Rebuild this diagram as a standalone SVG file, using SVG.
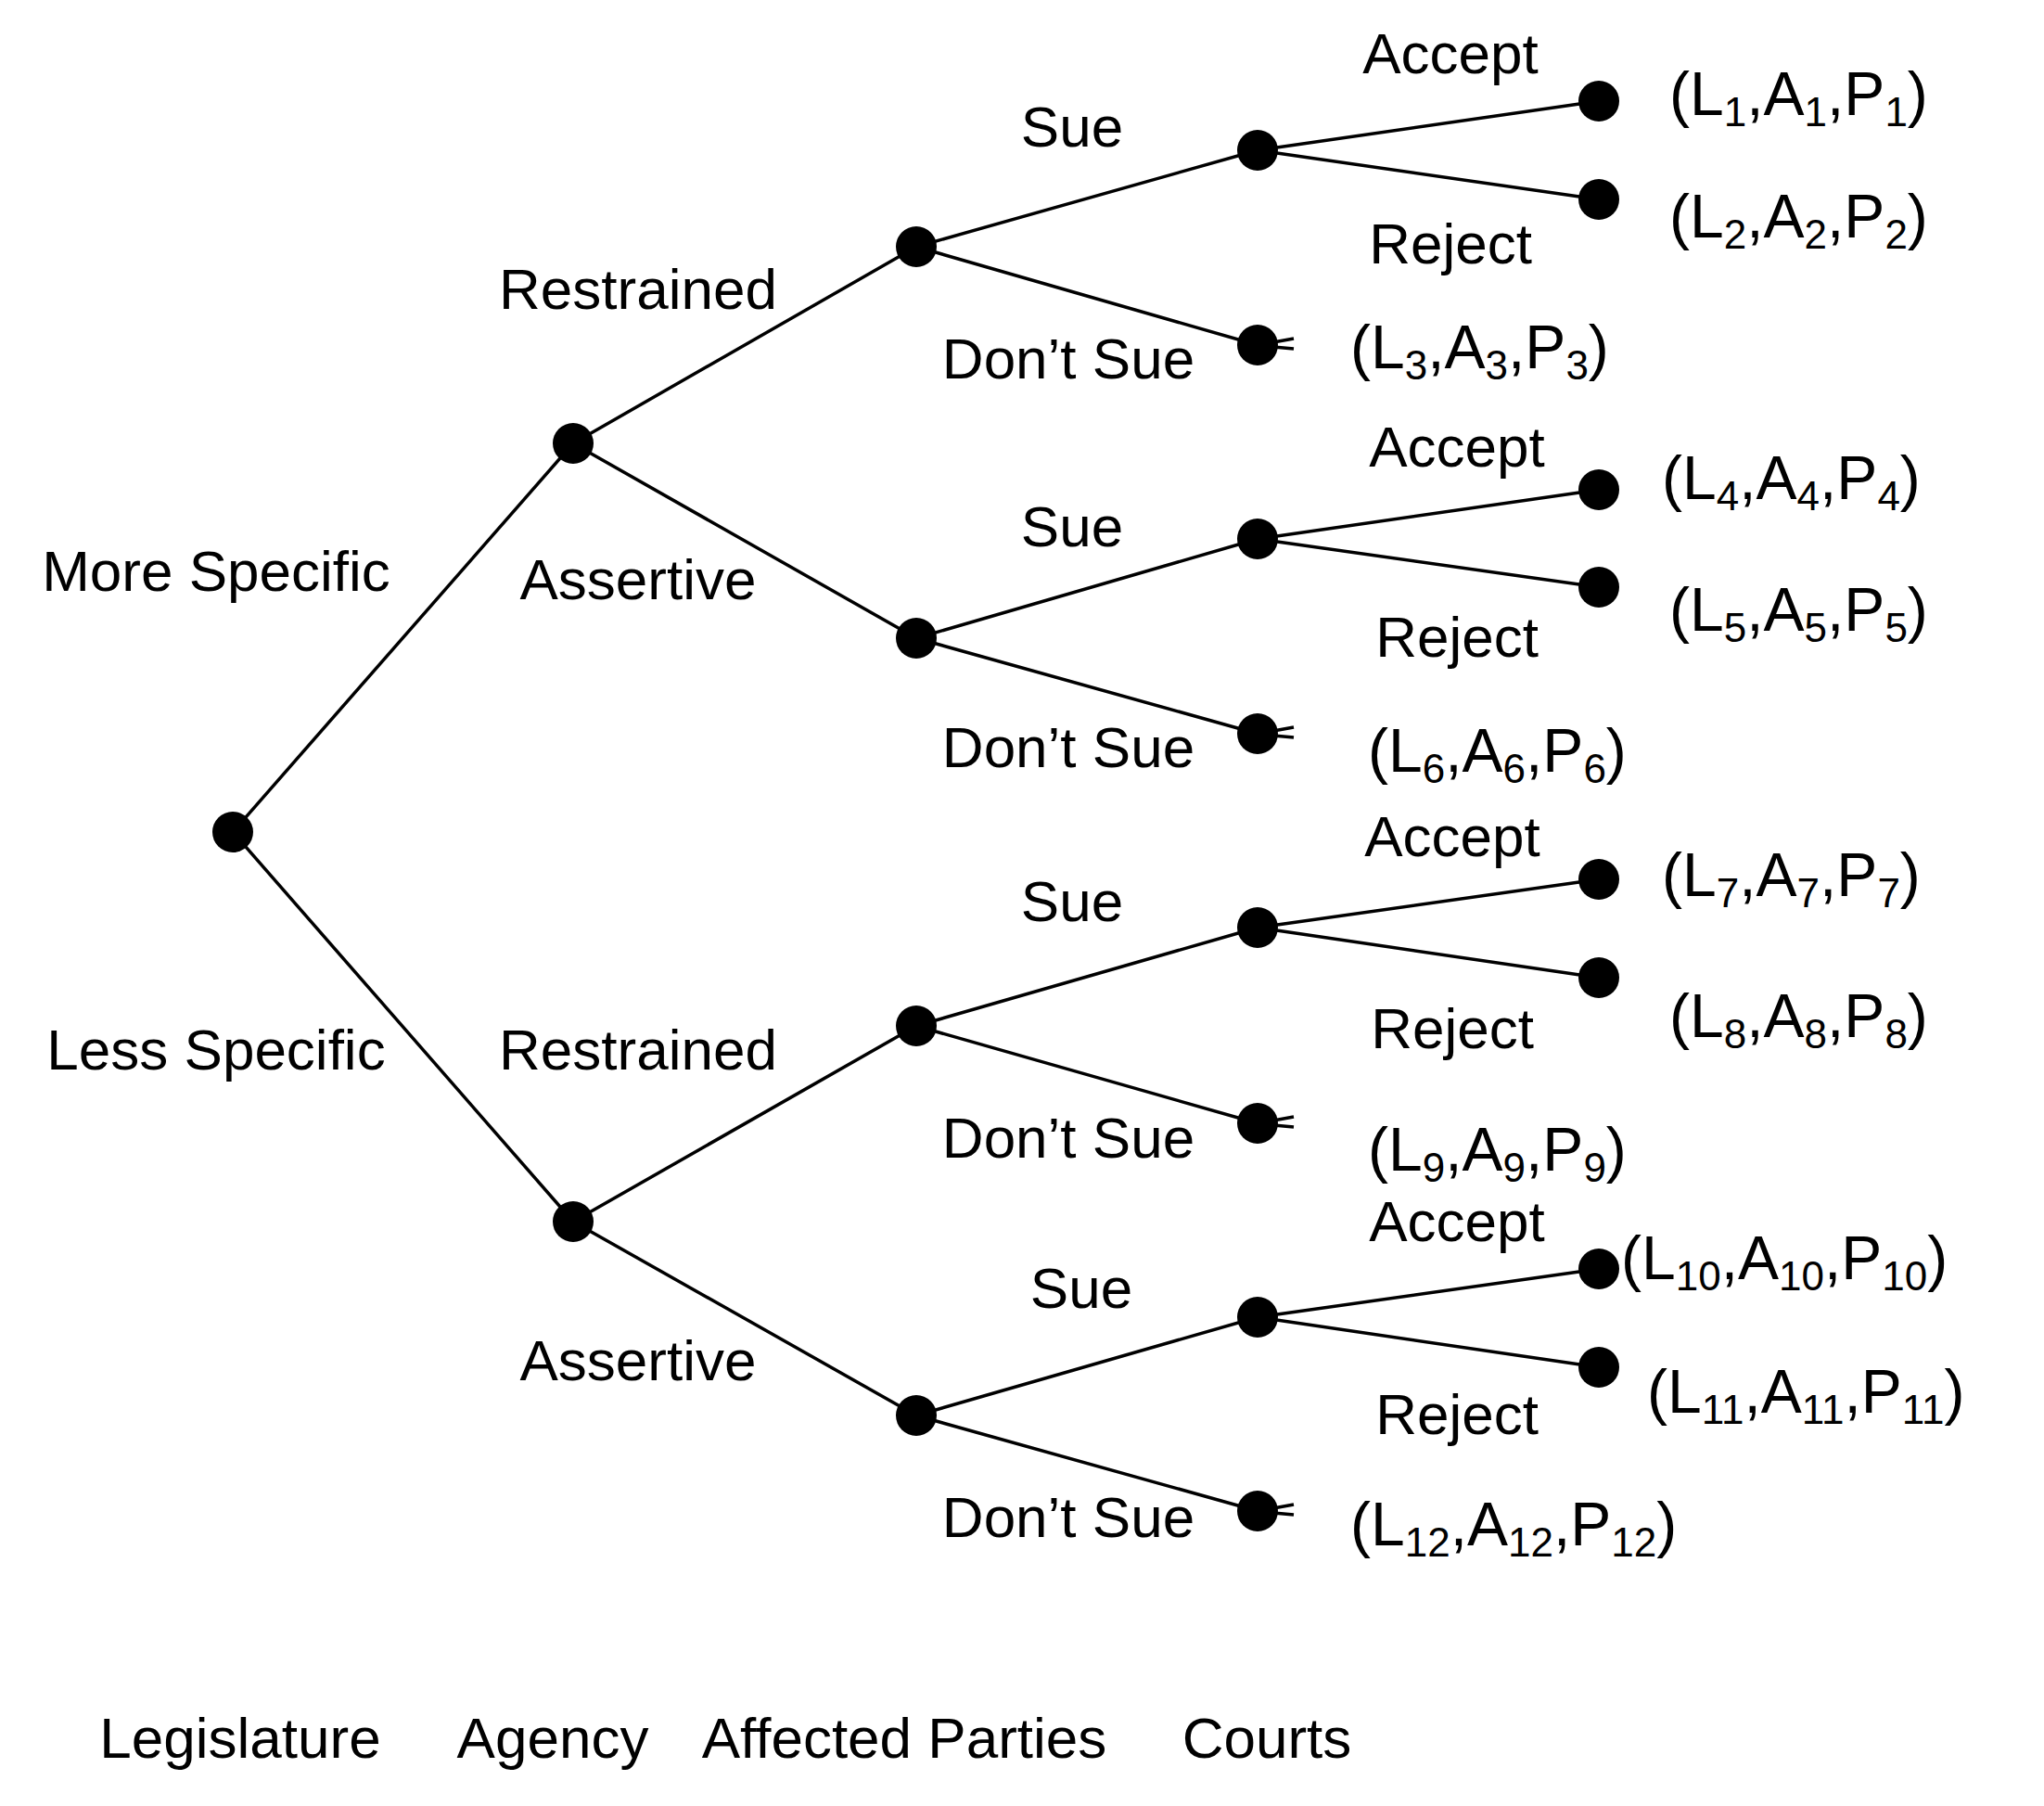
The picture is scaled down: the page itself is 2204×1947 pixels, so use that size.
<svg xmlns="http://www.w3.org/2000/svg" width="2204" height="1947" viewBox="0 0 2204 1947">
<style>
.e{stroke:#000;stroke-width:3.5;fill:none}
.n{fill:#000}
text{font-family:"Liberation Sans",Arial,sans-serif;font-size:62px;fill:#000}
.m{text-anchor:middle}
.p{font-size:66px}
.s{font-size:44px}
</style>
<rect width="2204" height="1947" fill="#fff"/>
<g id="connectors">
<path class="e" d="M251 897L618 478M251 897L618 1317"/>
<path class="e" d="M618 478L988 266M618 478L988 688M618 1317L988 1106M618 1317L988 1526"/>
<path class="e" d="M988 266L1356 162M988 266L1356 372M988 688L1356 581M988 688L1356 791M988 1106L1356 1000M988 1106L1356 1211M988 1526L1356 1420M988 1526L1356 1629"/>
<path class="e" d="M1356 162L1724 109M1356 162L1724 215M1356 581L1724 528M1356 581L1724 633M1356 1000L1724 948M1356 1000L1724 1054M1356 1420L1724 1368M1356 1420L1724 1474"/>
<path class="e" d="M1373 369L1395 365M1373 374L1395 376M1373 788L1395 784M1373 793L1395 795M1373 1208L1395 1204M1373 1213L1395 1215M1373 1626L1395 1622M1373 1631L1395 1633"/>
</g>
<g id="root"><circle class="n" cx="251" cy="897" r="22"/><text class="m" x="233" y="637">More Specific</text><text class="m" x="233" y="1153">Less Specific</text></g>
<g id="agency1"><circle class="n" cx="618" cy="478" r="22"/><text class="m" x="688" y="333">Restrained</text><text class="m" x="688" y="646">Assertive</text></g>
<g id="agency2"><circle class="n" cx="618" cy="1317" r="22"/><text class="m" x="688" y="1153">Restrained</text><text class="m" x="688" y="1488">Assertive</text></g>
<g id="ap1"><circle class="n" cx="988" cy="266" r="22"/><text class="m" x="1156" y="158">Sue</text><text class="m" x="1152" y="408">Don’t Sue</text></g>
<g id="ap2"><circle class="n" cx="988" cy="688" r="22"/><text class="m" x="1156" y="589">Sue</text><text class="m" x="1152" y="827">Don’t Sue</text></g>
<g id="ap3"><circle class="n" cx="988" cy="1106" r="22"/><text class="m" x="1156" y="993">Sue</text><text class="m" x="1152" y="1248">Don’t Sue</text></g>
<g id="ap4"><circle class="n" cx="988" cy="1526" r="22"/><text class="m" x="1166" y="1410">Sue</text><text class="m" x="1152" y="1657">Don’t Sue</text></g>
<g id="c1"><circle class="n" cx="1356" cy="162" r="22"/><text class="m" x="1564" y="79">Accept</text><text class="m" x="1564" y="284">Reject</text></g>
<g id="c2"><circle class="n" cx="1356" cy="581" r="22"/><text class="m" x="1571" y="503">Accept</text><text class="m" x="1571" y="708">Reject</text></g>
<g id="c3"><circle class="n" cx="1356" cy="1000" r="22"/><text class="m" x="1566" y="923">Accept</text><text class="m" x="1566" y="1130">Reject</text></g>
<g id="c4"><circle class="n" cx="1356" cy="1420" r="22"/><text class="m" x="1571" y="1338">Accept</text><text class="m" x="1571" y="1546">Reject</text></g>
<g id="t1"><circle class="n" cx="1724" cy="109" r="22"/><text class="p" x="1800" y="124">(L<tspan class="s" dy="12">1</tspan><tspan dy="-12">,A</tspan><tspan class="s" dy="12">1</tspan><tspan dy="-12">,P</tspan><tspan class="s" dy="12">1</tspan><tspan dy="-12">)</tspan></text></g>
<g id="t2"><circle class="n" cx="1724" cy="215" r="22"/><text class="p" x="1800" y="256">(L<tspan class="s" dy="12">2</tspan><tspan dy="-12">,A</tspan><tspan class="s" dy="12">2</tspan><tspan dy="-12">,P</tspan><tspan class="s" dy="12">2</tspan><tspan dy="-12">)</tspan></text></g>
<g id="t3"><circle class="n" cx="1356" cy="372" r="22"/><text class="p" x="1456" y="397">(L<tspan class="s" dy="12">3</tspan><tspan dy="-12">,A</tspan><tspan class="s" dy="12">3</tspan><tspan dy="-12">,P</tspan><tspan class="s" dy="12">3</tspan><tspan dy="-12">)</tspan></text></g>
<g id="t4"><circle class="n" cx="1724" cy="528" r="22"/><text class="p" x="1792" y="538">(L<tspan class="s" dy="12">4</tspan><tspan dy="-12">,A</tspan><tspan class="s" dy="12">4</tspan><tspan dy="-12">,P</tspan><tspan class="s" dy="12">4</tspan><tspan dy="-12">)</tspan></text></g>
<g id="t5"><circle class="n" cx="1724" cy="633" r="22"/><text class="p" x="1800" y="680">(L<tspan class="s" dy="12">5</tspan><tspan dy="-12">,A</tspan><tspan class="s" dy="12">5</tspan><tspan dy="-12">,P</tspan><tspan class="s" dy="12">5</tspan><tspan dy="-12">)</tspan></text></g>
<g id="t6"><circle class="n" cx="1356" cy="791" r="22"/><text class="p" x="1475" y="832">(L<tspan class="s" dy="12">6</tspan><tspan dy="-12">,A</tspan><tspan class="s" dy="12">6</tspan><tspan dy="-12">,P</tspan><tspan class="s" dy="12">6</tspan><tspan dy="-12">)</tspan></text></g>
<g id="t7"><circle class="n" cx="1724" cy="948" r="22"/><text class="p" x="1792" y="966">(L<tspan class="s" dy="12">7</tspan><tspan dy="-12">,A</tspan><tspan class="s" dy="12">7</tspan><tspan dy="-12">,P</tspan><tspan class="s" dy="12">7</tspan><tspan dy="-12">)</tspan></text></g>
<g id="t8"><circle class="n" cx="1724" cy="1054" r="22"/><text class="p" x="1800" y="1118">(L<tspan class="s" dy="12">8</tspan><tspan dy="-12">,A</tspan><tspan class="s" dy="12">8</tspan><tspan dy="-12">,P</tspan><tspan class="s" dy="12">8</tspan><tspan dy="-12">)</tspan></text></g>
<g id="t9"><circle class="n" cx="1356" cy="1211" r="22"/><text class="p" x="1475" y="1262">(L<tspan class="s" dy="12">9</tspan><tspan dy="-12">,A</tspan><tspan class="s" dy="12">9</tspan><tspan dy="-12">,P</tspan><tspan class="s" dy="12">9</tspan><tspan dy="-12">)</tspan></text></g>
<g id="t10"><circle class="n" cx="1724" cy="1368" r="22"/><text class="p" x="1748" y="1379">(L<tspan class="s" dy="12">10</tspan><tspan dy="-12">,A</tspan><tspan class="s" dy="12">10</tspan><tspan dy="-12">,P</tspan><tspan class="s" dy="12">10</tspan><tspan dy="-12">)</tspan></text></g>
<g id="t11"><circle class="n" cx="1724" cy="1474" r="22"/><text class="p" x="1776" y="1523">(L<tspan class="s" dy="12">11</tspan><tspan dy="-12">,A</tspan><tspan class="s" dy="12">11</tspan><tspan dy="-12">,P</tspan><tspan class="s" dy="12">11</tspan><tspan dy="-12">)</tspan></text></g>
<g id="t12"><circle class="n" cx="1356" cy="1629" r="22"/><text class="p" x="1456" y="1666">(L<tspan class="s" dy="12">12</tspan><tspan dy="-12">,A</tspan><tspan class="s" dy="12">12</tspan><tspan dy="-12">,P</tspan><tspan class="s" dy="12">12</tspan><tspan dy="-12">)</tspan></text></g>
<g id="players">
<text class="m" x="259" y="1895">Legislature</text>
<text class="m" x="596" y="1895">Agency</text>
<text class="m" x="975" y="1895">Affected Parties</text>
<text class="m" x="1366" y="1895">Courts</text>
</g>
</svg>
